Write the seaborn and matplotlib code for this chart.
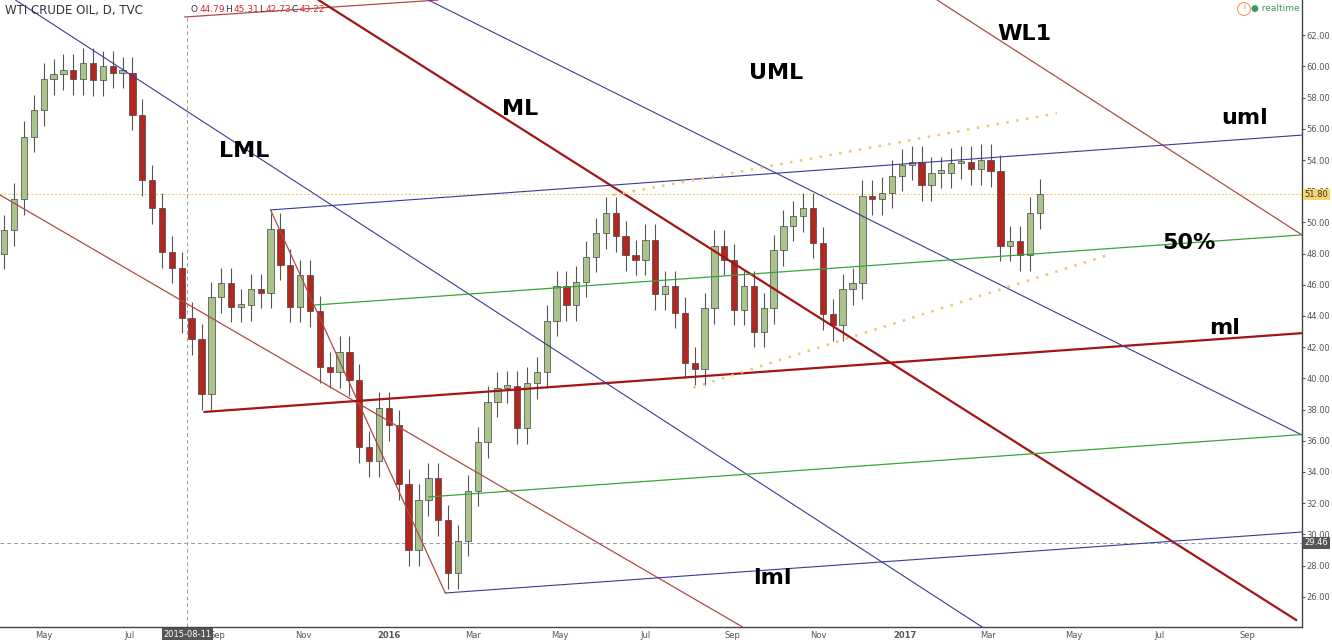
import matplotlib
matplotlib.use("Agg")
import matplotlib.pyplot as plt
import seaborn as sns
import pandas as pd
import numpy as np

# weekly closes (W-FRI)
week_start = "2015-04-03"
closes = [49.5, 51.5, 55.5, 57.2,
          59.2, 59.5, 59.8, 59.2, 60.2,
          59.1, 60.0, 59.6, 59.6,
          56.9, 52.7, 50.9, 48.1, 47.1,
          43.9, 42.5, 39.0, 45.2,
          46.1, 44.6, 44.7, 45.7,
          45.5, 49.6, 47.3, 44.6, 46.6,
          44.3, 40.7, 40.4, 41.7,
          39.9, 35.6, 34.7, 38.1,
          37.0, 33.2, 29.0, 32.2, 33.6,
          30.9, 27.5, 29.6, 32.8,
          35.9, 38.5, 39.4, 39.5,
          36.8, 39.7, 40.4, 43.7, 45.9,
          44.7, 46.2, 47.8, 49.3,
          50.6, 49.1, 47.9, 47.6,
          48.9, 45.4, 45.9, 44.2, 41.0,
          40.6, 44.5, 48.5, 47.6,
          44.4, 45.9, 43.0, 44.5, 48.2,
          49.8, 50.4, 50.9, 48.7,
          44.1, 43.4, 45.7, 46.1,
          51.7, 51.5, 51.9, 53.0, 53.7,
          53.9, 52.4, 53.2, 53.2,
          53.8, 53.9, 53.4, 54.0,
          53.3, 48.5, 48.8, 47.9, 50.6,
          51.8]
wick = 1.0

# drawn lines: (start date, start price, end date, end price)
lines_red_thin = [("2015-08-09", 63.17, "2016-02-05", 64.26),
                  ("2015-03-31", 51.76, "2016-09-08", 24.06),
                  ("2017-01-24", 64.26, "2017-10-10", 49.2),
                  ("2015-10-09", 50.8, "2016-02-10", 26.24)]
lines_red_thick = [("2015-11-12", 64.26, "2017-10-06", 24.5),
                   ("2015-08-23", 37.85, "2017-10-10", 42.9)]
lines_blue = [("2015-04-11", 64.26, "2017-02-25", 24.06),
              ("2016-01-29", 64.26, "2017-10-10", 36.37),
              ("2015-10-09", 50.8, "2017-10-10", 55.6),
              ("2016-02-10", 26.24, "2017-10-10", 30.15)]
lines_green = [("2015-11-09", 44.7, "2017-10-10", 49.2),
               ("2016-01-29", 32.4, "2017-10-10", 36.4)]
lines_orange = [("2016-06-08", 51.76, "2017-04-19", 57.0),
                ("2016-08-04", 39.4, "2017-05-25", 47.9)]

labels = ["LML", "ML", "UML", "WL1", "uml", "50%", "ml", "lml"]
label_dates = ["2015-09-20", "2016-04-03", "2016-10-02", "2017-03-27",
               "2017-08-30", "2017-07-22", "2017-08-16", "2016-09-29"]
label_prices = [54.6, 57.3, 59.6, 62.1, 56.7, 48.7, 43.2, 27.2]

last_price = 51.80
cursor_price = 29.46
cursor_date = "2015-08-11"
header_ohlc = ["44.79", "45.31", "42.73", "43.22"]

sns.set_style("white")
plt.rcParams['font.family'] = ['DejaVu Sans']

W, H = 1332, 642
fig = plt.figure(figsize=(13.32, 6.42), dpi=100)
ax = fig.add_axes([0, 1 - 627 / H, 1302 / W, 627 / H])

YMIN, YMAX = 24.06, 64.26
dates = pd.date_range(week_start, periods=len(closes), freq="W-FRI")
opens = [closes[0] - 1.5] + closes[:-1]
for d, o, c in zip(dates, opens, closes):
    up = c >= o
    col = "#a9c48a" if up else "#b3261e"
    ax.vlines(d, min(o, c) - wick, max(o, c) + wick, color="#555555", lw=0.8, zorder=2)
    ax.bar(d, max(abs(c - o), 0.15), bottom=min(o, c), width=4.5, color=col,
           edgecolor="#444444", linewidth=0.5, zorder=3)

def draw(segs, color, lw, ls="-"):
    for s in segs:
        df = pd.DataFrame({"d": pd.to_datetime([s[0], s[2]]), "p": [s[1], s[3]]})
        sns.lineplot(data=df, x="d", y="p", ax=ax, color=color, lw=lw, linestyle=ls, zorder=4)

draw(lines_red_thin, "#b04a45", 0.9)
draw(lines_red_thick, "#a31515", 1.6)
draw(lines_blue, "#3a3a9a", 0.8)
draw(lines_green, "#3aa33a", 0.9)
draw(lines_orange, "#f5c26b", 1.8, ls=(0, (1, 3)))

ax.axhline(last_price, color="#f2c94c", lw=0.7, ls=(0, (2, 2)), zorder=1)
ax.axhline(cursor_price, color="#999999", lw=0.7, ls=(0, (4, 3)), zorder=1)
ax.axvline(pd.Timestamp(cursor_date), ymax=(63.3 - YMIN) / (YMAX - YMIN),
           color="#999999", lw=0.7, ls=(0, (4, 3)), zorder=1)

for t, d, p in zip(labels, label_dates, label_prices):
    ax.text(pd.Timestamp(d), p, t, fontsize=16, fontweight="bold", ha="center", va="center",
            color="black", zorder=6)

ax.set_xlim(pd.Timestamp("2015-03-31"), pd.Timestamp("2017-10-10"))
ax.set_ylim(YMIN, YMAX)
ax.set_xlabel("")
ax.set_ylabel("")
ax.yaxis.tick_right()
yt = np.arange(26, 65, 2)
ax.set_yticks(yt[:-1])
ax.set_yticklabels([f"{v:.2f}" for v in yt[:-1]])
ticks = pd.date_range("2015-05-01", "2017-09-01", freq="2MS")
ax.set_xticks(ticks)
ax.set_xticklabels([str(t.year) if t.month == 1 else t.strftime("%b") for t in ticks])
for lbl, t in zip(ax.get_xticklabels(), ticks):
    if t.month == 1:
        lbl.set_fontweight("bold")
ax.tick_params(axis="both", labelsize=6, colors="#555555", length=2, direction="out", pad=1)
for s in ["top", "left"]:
    ax.spines[s].set_visible(False)
for s in ["right", "bottom"]:
    ax.spines[s].set_color("#444444")
    ax.spines[s].set_linewidth(1)

# right-side price tags
ax.text(1.002, (last_price - YMIN) / (YMAX - YMIN), f"{last_price:.2f}", transform=ax.transAxes,
        fontsize=6, va="center", ha="left", color="#333333",
        bbox=dict(boxstyle="square,pad=0.15", fc="#f9d56e", ec="none"), zorder=7)
ax.text(1.002, (cursor_price - YMIN) / (YMAX - YMIN), f"{cursor_price:.2f}", transform=ax.transAxes,
        fontsize=6, va="center", ha="left", color="white",
        bbox=dict(boxstyle="square,pad=0.15", fc="#555555", ec="none"), zorder=7)
ax.text(pd.Timestamp(cursor_date), -0.004, cursor_date, transform=ax.get_xaxis_transform(),
        fontsize=6, va="top", ha="center", color="white",
        bbox=dict(boxstyle="square,pad=0.15", fc="#555555", ec="none"), zorder=7)

fig.text(5 / W, 1 - 4 / H, "WTI CRUDE OIL, D, TVC", fontsize=8.5, va="top", color="#333333")
o, h, l, c = header_ohlc
y0 = 1 - 5 / H
for xp, txt, col in [(191, "O", "#333333"), (200, o, "#d03030"), (225, "H", "#333333"),
                     (234, h, "#d03030"), (259, "L", "#333333"), (266, l, "#d03030"),
                     (291, "C", "#333333"), (300, c, "#d03030")]:
    fig.text(xp / W, y0, txt, fontsize=6.5, va="top", color=col)
fig.text(1244 / W, 1 - 4 / H, "!", fontsize=7, va="top", ha="center", color="#f0a060",
         bbox=dict(boxstyle="circle,pad=0.15", fc="white", ec="#f0a060", lw=0.8))
fig.text(1300 / W, 1 - 4 / H, "● realtime", fontsize=6.5, va="top", ha="right", color="#3a9a5a")

fig.savefig("out.png", dpi=100)
